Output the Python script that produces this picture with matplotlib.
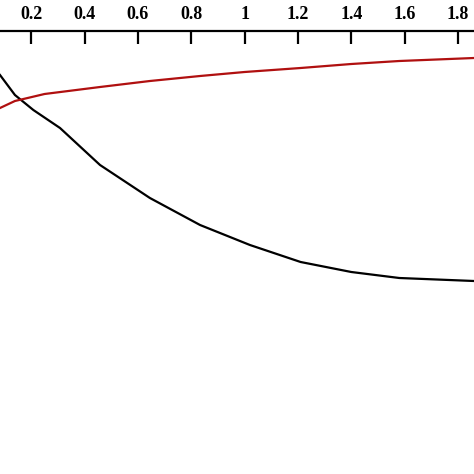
import numpy as np
import matplotlib.pyplot as plt

# curves (x in axis units, y as depth below the top axis)
x_black = [0.083, 0.139, 0.208, 0.308, 0.458, 0.645, 0.833, 1.02, 1.21, 1.40, 1.58, 1.86]
y_black = [75, 95, 110, 128, 165, 198, 225, 245, 262, 272, 278, 281]
x_red = [0.083, 0.139, 0.25, 0.458, 0.645, 0.833, 1.0, 1.21, 1.40, 1.58, 1.86]
y_red = [108, 101, 94, 87, 81, 76, 72, 68, 64, 61, 58]
ticks = [0.2, 0.4, 0.6, 0.8, 1.0, 1.2, 1.4, 1.6, 1.8]
tick_labels = ['0.2', '0.4', '0.6', '0.8', '1', '1.2', '1.4', '1.6', '1.8']

plt.rcParams['font.family'] = ['Liberation Serif', 'DejaVu Serif']

fig = plt.figure(figsize=(4.74, 4.74), dpi=100)
ax = fig.add_axes([0, 0, 1, 443 / 474])

ax.plot(x_black, y_black, color='black', lw=1.6)
ax.plot(x_red, y_red, color='#b01010', lw=1.6)

ax.set_xlim(0.083, 1.86)
ax.set_ylim(474, 31)
for s in ['left', 'right', 'bottom']:
    ax.spines[s].set_visible(False)
ax.spines['top'].set_linewidth(1.6)
ax.xaxis.tick_top()
ax.set_xticks(ticks)
ax.set_xticklabels(tick_labels, fontsize=13, fontweight='bold')
ax.tick_params(axis='x', direction='in', length=9, width=1.6, pad=6)
ax.set_yticks([])

fig.savefig('out.png', dpi=100)
